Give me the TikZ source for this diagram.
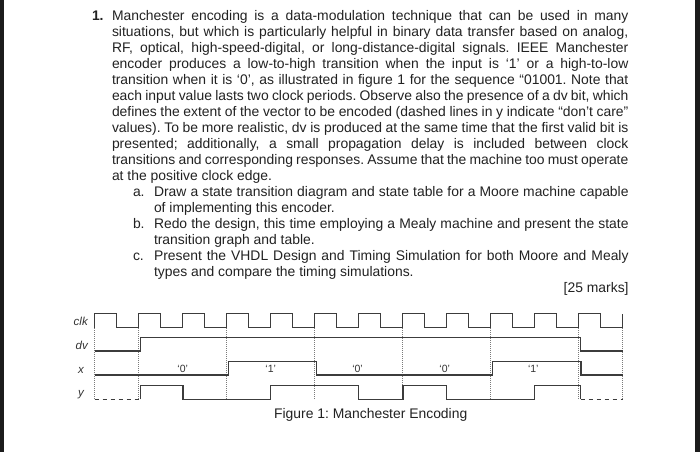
\documentclass[tikz,border=0pt]{standalone}
\usepackage{fontspec}
\setmainfont{Liberation Sans}
\newcommand\bodyfont{\fontsize{13.9}{16}\selectfont\frenchspacing\spaceskip=.278em plus 1em minus .2em\relax\hyphenpenalty=10000 \exhyphenpenalty=10000 \tolerance=10000 \hbadness=10000 \hfuzz=20pt }
\definecolor{ink}{HTML}{222222}
\definecolor{wave}{HTML}{3C3C3C}
\definecolor{tag}{HTML}{333333}
\definecolor{guide}{HTML}{7A7A7A}
\definecolor{bar}{HTML}{1C1C1C}
\tikzset{
  para/.style={anchor=north west,inner sep=0pt,outer sep=0pt,align=justify,font=\bodyfont,text=ink},
  lbl/.style={anchor=base west,inner sep=0pt,outer sep=0pt,font=\bodyfont,text=ink},
  sig/.style={draw=wave,line width=1.5pt,line join=miter},
  dontcare/.style={draw=wave,line width=1.5pt,dash pattern=on 4.5pt off 3.5pt},
  guideline/.style={draw=guide,line width=.9pt,dash pattern=on 1pt off 1pt},
  name tag/.style={anchor=base east,inner sep=0pt,text=tag,font=\fontsize{11.5}{12}\selectfont\itshape},
  bit/.style={inner sep=0pt,text=tag,font=\fontsize{10.5}{11}\selectfont},
}
\begin{document}
\begin{tikzpicture}[x=1pt,y=-1pt]
\useasboundingbox (0,0) rectangle (700,452);
\fill[white] (0,0) rectangle (700,452);
\fill[bar] (0,0) rectangle (4.2,452);
\fill[bar] (694.6,0) rectangle (700,452);
% question text
\node[lbl,font=\bodyfont\bfseries] (num) at (92,20.4) {1.};
\node[para,text width=516.4pt] (intro) at (112,10.3) {Manchester encoding is a data-modulation technique that can be used in many\linebreak
situations, but which is particularly helpful in binary data transfer based on analog,\linebreak
RF, optical, high-speed-digital, or long-distance-digital signals. IEEE Manchester\linebreak
encoder produces a low-to-high transition when the input is ‘1’ or a high-to-low\linebreak
transition when it is ‘0’, as illustrated in figure 1 for the sequence “01001. Note that\linebreak
each input value lasts two clock periods. Observe also the presence of a dv bit, which\linebreak
defines the extent of the vector to be encoded (dashed lines in y indicate “don’t care”\linebreak
values). To be more realistic, dv is produced at the same time that the first valid bit is\linebreak
presented; additionally, a small propagation delay is included between clock\linebreak
transitions and corresponding responses. Assume that the machine too must operate\linebreak
at the positive clock edge.};
\node[lbl] (la) at (133,196.4) {a.};
\node[para,text width=474.6pt] (ia) at (154,186.3) {Draw a state transition diagram and state table for a Moore machine capable\linebreak of implementing this encoder.};
\node[lbl] (lb) at (133,228.4) {b.};
\node[para,text width=474.6pt] (ib) at (154,218.3) {Redo the design, this time employing a Mealy machine and present the state\linebreak transition graph and table.};
\node[lbl] (lc) at (133,260.4) {c.};
\node[para,text width=474.6pt] (ic) at (154,250.3) {Present the VHDL Design and Timing Simulation for both Moore and Mealy\linebreak types and compare the timing simulations.};
\node[anchor=base east,inner sep=0pt,font=\bodyfont,text=ink] (marks) at (628.8,292.6) {[25 marks]};
% guide lines
\draw[guideline] (94.5,328) -- (94.5,399.5);
\draw[guideline] (622.5,328) -- (622.5,399.5);
\foreach \gx in {138.7,226.7,314.7,402.7,490.7,578.7}
  \draw[guideline] (\gx,314) -- (\gx,399.5);
% signal names
\node[name tag] (clk) at (88,325) {clk};
\node[name tag] (dv) at (88,349) {dv};
\node[name tag] (xn) at (84,373) {x};
\node[name tag] (yn) at (84,396) {y};
% clk
\draw[sig] (94.5,327.7) -- (94.5,313.7)
 -- (116.7,313.7) -- (116.7,327.7) -- (138.5,327.7) -- (138.5,313.7)
 -- (160.7,313.7) -- (160.7,327.7) -- (182.5,327.7) -- (182.5,313.7)
 -- (204.7,313.7) -- (204.7,327.7) -- (226.5,327.7) -- (226.5,313.7)
 -- (248.7,313.7) -- (248.7,327.7) -- (270.5,327.7) -- (270.5,313.7)
 -- (292.7,313.7) -- (292.7,327.7) -- (314.5,327.7) -- (314.5,313.7)
 -- (336.7,313.7) -- (336.7,327.7) -- (358.5,327.7) -- (358.5,313.7)
 -- (380.7,313.7) -- (380.7,327.7) -- (402.5,327.7) -- (402.5,313.7)
 -- (424.7,313.7) -- (424.7,327.7) -- (446.5,327.7) -- (446.5,313.7)
 -- (468.7,313.7) -- (468.7,327.7) -- (490.5,327.7) -- (490.5,313.7)
 -- (512.7,313.7) -- (512.7,327.7) -- (534.5,327.7) -- (534.5,313.7)
 -- (556.7,313.7) -- (556.7,327.7) -- (578.5,327.7) -- (578.5,313.7)
 -- (600.7,313.7) -- (600.7,327.7) -- (622.5,327.7) -- (622.5,313.7);
% dv
\draw[sig] (94.5,351) -- (140.7,351) -- (140.7,337.3) -- (580.6,337.3) -- (580.6,351) -- (622.5,351);
% x
\draw[sig] (94.5,375.2) -- (228.7,375.2) -- (228.7,361.3) -- (316.7,361.3) -- (316.7,375.2)
 -- (492.7,375.2) -- (492.7,361.3) -- (580.8,361.3) -- (580.8,375.2) -- (622.5,375.2);
% y
\draw[dontcare] (94.5,399.3) -- (140.5,399.3);
\draw[sig] (140.5,399.3) -- (140.5,385.5) -- (182.8,385.5) -- (182.8,399.3) -- (270.5,399.3) -- (270.5,385.5)
 -- (358.5,385.5) -- (358.5,399.3) -- (402.8,399.3) -- (402.8,385.5) -- (446.6,385.5) -- (446.6,399.3)
 -- (534.3,399.3) -- (534.3,385.5) -- (580.7,385.5) -- (580.7,399.3);
\draw[dontcare] (580.7,399.3) -- (622.5,399.3);
% bit values
\node[bit] (b1) at (182.7,368.5) {‘0’};
\node[bit] (b2) at (270.7,368.5) {‘1’};
\node[bit] (b3) at (357.5,368.5) {‘0’};
\node[bit] (b4) at (444.7,368.5) {‘0’};
\node[bit] (b5) at (533.3,368.5) {‘1’};
% caption
\node[anchor=base,inner sep=0pt,font=\bodyfont,text=ink] (cap) at (370.7,418.6) {Figure 1: Manchester Encoding};
\end{tikzpicture}
\end{document}
